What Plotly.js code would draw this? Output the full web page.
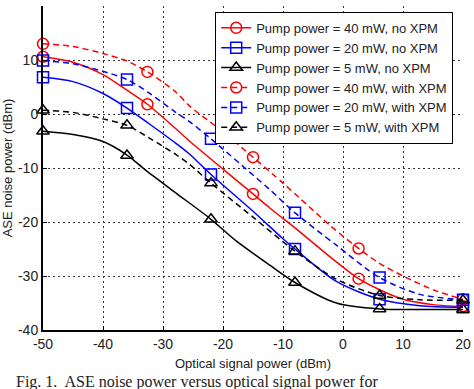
<!DOCTYPE html>
<html>
<head>
<meta charset="utf-8">
<script src="https://cdn.plot.ly/plotly-3.0.1.min.js"></script>
<style>html,body{margin:0;padding:0;background:#fff;}#chart{width:474px;height:389px;}</style>
</head>
<body>
<div id="chart"></div>
<script>
// Legend labels
const seriesNames = [
  "Pump power = 40 mW, no XPM",
  "Pump power = 20 mW, no XPM",
  "Pump power = 5 mW, no XPM",
  "Pump power = 40 mW, with XPM",
  "Pump power = 20 mW, with XPM",
  "Pump power = 5 mW, with XPM"
];

// Curve points
const red40NoX_x = [-50,-45,-40,-36,-32.6,-28,-25.6,-20,-15,-12.2,-7,-2,2.6,6,10,15,20];
const red40NoX_y = [10.6,9.6,7.3,4.4,1.8,-2.6,-5.0,-10.2,-14.8,-17.4,-22.0,-26.6,-30.5,-32.5,-34.3,-35.3,-35.7];
const blue20NoX_x = [-50,-45,-40,-36,-32.2,-28,-25.6,-22,-15,-10,-8,-1.1,6.1,12.8,20];
const blue20NoX_y = [6.8,6.0,3.8,1.1,-1.9,-5.3,-7.4,-11.2,-18.0,-23.1,-25.0,-31.0,-34.3,-35.5,-35.8];
const blk5NoX_x = [-50,-45,-40,-36,-33,-28,-22,-17.8,-12.2,-8,-1.1,6.1,12.8,20];
const blk5NoX_y = [-3.2,-3.8,-5.1,-7.6,-10.3,-14.5,-19.5,-23.5,-28.0,-31.2,-35.0,-36.1,-36.2,-36.2];
const red40X_x = [-50,-45,-40,-36,-32.6,-28,-25.6,-20,-15,-10,-7.2,-2,2.6,6,10,15.6,20];
const red40X_y = [13.0,12.5,11.2,9.8,7.8,4.2,1.5,-3.3,-8.0,-12.8,-15.6,-20.8,-24.9,-27.6,-30.0,-32.8,-34.3];
const blue20X_x = [-50,-45,-40,-36,-32.2,-28,-25.6,-22,-15,-12.2,-8,-1.1,6.1,12.8,20];
const blue20X_y = [9.9,9.3,7.9,6.4,3.8,0.4,-1.4,-4.6,-11.3,-14.0,-18.3,-24.3,-30.3,-33.4,-34.4];
const blk5X_x = [-50,-45,-40,-36,-32.2,-28,-25.6,-22,-15,-8,-1.1,6.1,12.8,20];
const blk5X_y = [0.7,0.3,-0.9,-2.1,-4.5,-7.4,-9.3,-12.8,-19.1,-25.4,-30.6,-33.6,-34.4,-34.5];

// Marker points
const red40NoX_mx = [-50,-32.6,-15,2.6,20];
const red40NoX_my = [10.6,1.8,-14.8,-30.5,-35.6];
const blue20NoX_mx = [-50,-36,-22,-8,6.1,20];
const blue20NoX_my = [6.8,1.1,-11.2,-25.0,-34.3,-35.8];
const blk5NoX_mx = [-50,-36,-22,-8,6.1,20];
const blk5NoX_my = [-3.2,-7.7,-19.5,-31.2,-36.1,-36.2];
const red40X_mx = [-50,-32.6,-15,2.6,20];
const red40X_my = [13.0,7.8,-8.0,-24.9,-34.3];
const blue20X_mx = [-50,-36,-22,-8,6.1,20];
const blue20X_my = [9.9,6.4,-4.6,-18.3,-30.3,-34.4];
const blk5X_mx = [-50,-36,-22,-8,6.1,20];
const blk5X_my = [0.7,-2.1,-12.8,-25.4,-33.6,-34.5];

const xTicks = [-50,-40,-30,-20,-10,0,10,20];
const yTicks = [-40,-30,-20,-10,0,10,20];

const series = [
  {name: seriesNames[0], x: red40NoX_x, y: red40NoX_y, mx: red40NoX_mx, my: red40NoX_my, color: "#ff0000", sym: "circle-open", dash: "solid"},
  {name: seriesNames[1], x: blue20NoX_x, y: blue20NoX_y, mx: blue20NoX_mx, my: blue20NoX_my, color: "#0000ff", sym: "square-open", dash: "solid"},
  {name: seriesNames[2], x: blk5NoX_x, y: blk5NoX_y, mx: blk5NoX_mx, my: blk5NoX_my, color: "#000000", sym: "triangle-up-open", dash: "solid"},
  {name: seriesNames[3], x: red40X_x, y: red40X_y, mx: red40X_mx, my: red40X_my, color: "#ff0000", sym: "circle-open", dash: "6px,4px"},
  {name: seriesNames[4], x: blue20X_x, y: blue20X_y, mx: blue20X_mx, my: blue20X_my, color: "#0000ff", sym: "square-open", dash: "6px,4px"},
  {name: seriesNames[5], x: blk5X_x, y: blk5X_y, mx: blk5X_mx, my: blk5X_my, color: "#000000", sym: "triangle-up-open", dash: "6px,4px"}
];

const traces = [];
series.forEach((s, i) => {
  traces.push({x: s.x, y: s.y, mode: "lines", type: "scatter", showlegend: false, hoverinfo: "skip",
    line: {color: s.color, width: 1.5, dash: s.dash, shape: "spline", smoothing: 0.8}});
  traces.push({x: s.mx, y: s.my, mode: "markers", type: "scatter", showlegend: false, cliponaxis: false,
    marker: {symbol: s.sym, size: 11, color: s.color, line: {color: s.color, width: 1.5}}});
});
series.forEach((s) => {
  traces.push({x: [null], y: [null], mode: "lines+markers", type: "scatter", name: s.name,
    line: {color: s.color, width: 1.5, dash: s.dash},
    marker: {symbol: s.sym, size: 11, color: s.color, line: {color: s.color, width: 1.5}}});
});

const font = {family: "Liberation Sans, Arial, sans-serif", size: 13, color: "#222"};

const layout = {
  width: 474, height: 389,
  margin: {l: 43, r: 11, t: 6, b: 59},
  paper_bgcolor: "#fff", plot_bgcolor: "#fff",
  font: font,
  showlegend: true,
  legend: {x: 0.41, y: 0.982, xanchor: "left", yanchor: "top",
    bgcolor: "#fff", bordercolor: "#000", borderwidth: 1,
    font: {family: "Liberation Sans, Arial, sans-serif", size: 13, color: "#222"},
    tracegroupgap: 0, itemwidth: 30},
  xaxis: {range: [-50, 20], tickvals: xTicks, ticktext: xTicks.map(String),
    showline: true, linecolor: "#000", linewidth: 2, mirror: false,
    ticks: "inside", ticklen: 4, tickcolor: "#000",
    showgrid: true, gridcolor: "#333", griddash: "2px,3px", gridwidth: 1,
    zeroline: false, tickfont: {size: 14, color: "#222"},
    title: {text: "Optical signal power (dBm)", font: {size: 13, color: "#222"}, standoff: 8}},
  yaxis: {range: [-40, 20], tickvals: yTicks, ticktext: yTicks.map(String),
    showline: true, linecolor: "#000", linewidth: 2, mirror: false,
    ticks: "inside", ticklen: 4, tickcolor: "#000",
    showgrid: true, gridcolor: "#333", griddash: "2px,3px", gridwidth: 1,
    zeroline: false, tickfont: {size: 14, color: "#222"},
    title: {text: "ASE noise power (dBm)", font: {size: 13, color: "#222"}, standoff: 2}},
  annotations: [{
    text: "Fig. 1.  ASE noise power versus optical signal power for",
    xref: "paper", yref: "paper", x: -0.07, y: -0.128, xanchor: "left", yanchor: "top",
    showarrow: false, font: {family: "Liberation Serif, Times New Roman, serif", size: 16, color: "#222"}
  }]
};

Plotly.newPlot("chart", traces, layout, {staticPlot: true, displayModeBar: false});
</script>
</body>
</html>
